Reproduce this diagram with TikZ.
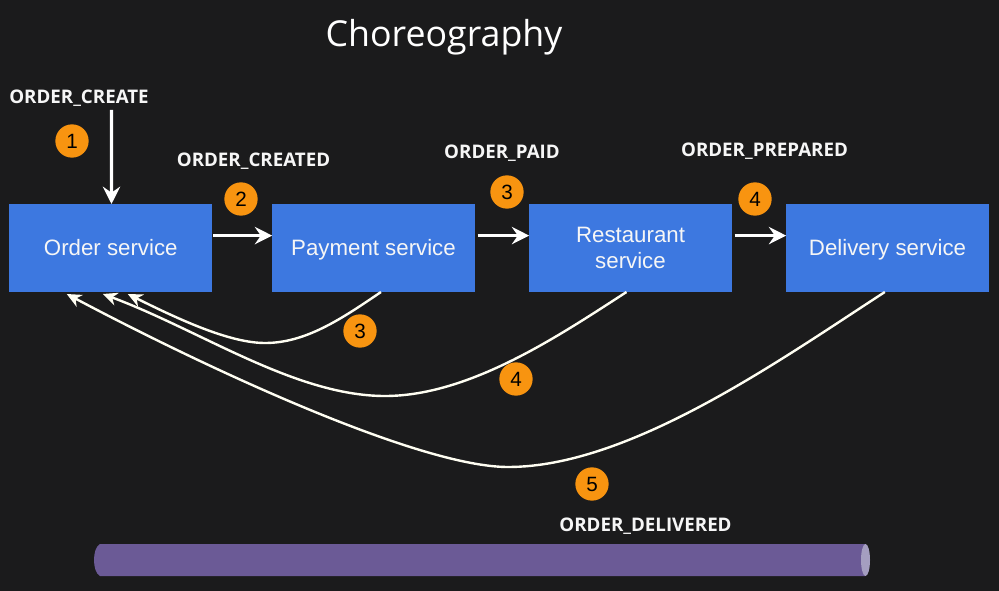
\documentclass[tikz,border=0pt]{standalone}
\usepackage{fontspec}
\setmainfont{Liberation Sans}
\newfontfamily\labelfont{Open Sans}
\usetikzlibrary{arrows.meta}
\definecolor{bgc}{RGB}{27,27,28}
\definecolor{boxc}{RGB}{61,120,224}
\definecolor{orangec}{RGB}{248,148,16}
\definecolor{pipec}{RGB}{107,90,150}
\definecolor{pipeend}{RGB}{165,158,192}
\definecolor{textc}{RGB}{246,246,246}
\tikzset{
  svcbox/.style={fill=boxc,draw=none,minimum width=152pt,minimum height=66pt,inner sep=0pt,outer sep=0pt,text=textc,align=center,font=\fontsize{16.7pt}{19.6pt}\selectfont},
  oneline/.style={text height=12pt,text depth=0pt},
  badge/.style={circle,fill=orangec,minimum size=25pt,inner sep=0pt,text=black,font=\fontsize{15.5pt}{15.5pt}\selectfont},
  evt/.style={text=textc,inner sep=0pt,font=\labelfont\bfseries\fontsize{14.05pt}{16pt}\selectfont},
  bigarrow/.style={draw=white,line width=2.4pt,-{Stealth[length=13pt,width=13pt,inset=4.5pt]}},
  backarrow/.style={draw=white!95!yellow,line width=1.8pt,-{Stealth[length=11pt,width=10pt,inset=3.5pt]}},
}
\begin{document}
\begin{tikzpicture}[x=0.75pt,y=-0.75pt]
\useasboundingbox (0,0) rectangle (999,591);
\fill[bgc] (0,0) rectangle (999,591);
\node[text=white,inner sep=0pt,font=\labelfont\fontsize{26.8pt}{30pt}\selectfont] (title) at (444,37) {Choreography};

\node[svcbox,oneline] (order) at (110.75,248) {Order service};
\node[svcbox,oneline] (pay) at (373.5,248) {Payment service};
\node[svcbox] (rest) at (630.5,248) {Restaurant\\service};
\node[svcbox,oneline] (deliv) at (887.5,248) {Delivery service};

\node[evt] (lcreate) at (79,98) {ORDER\_CREATE};
\node[evt] (lcreated) at (253.5,161) {ORDER\_CREATED};
\node[evt] (lpaid) at (502,153) {ORDER\_PAID};
\node[evt] (lprep) at (764.5,151) {ORDER\_PREPARED};
\node[evt] (ldeliv) at (645.5,526) {ORDER\_DELIVERED};

\node[badge] (b1) at (72,141) {1};
\node[badge] (b2) at (241,199) {2};
\node[badge] (b3a) at (507,192) {3};
\node[badge] (b4a) at (755,199) {4};
\node[badge] (b3b) at (360,331) {3};
\node[badge] (b4b) at (516,379) {4};
\node[badge] (b5) at (592,484) {5};

\coordinate (cin) at (111.5,110);
\draw[bigarrow] (cin) -- ([xshift=0.56pt]order.north);
\draw[bigarrow] ([xshift=0.75pt,yshift=9.3pt]order.east) -- ([yshift=9.3pt]pay.west);
\draw[bigarrow] ([xshift=2pt,yshift=9.3pt]pay.east) -- ([yshift=9.3pt]rest.west);
\draw[bigarrow] ([xshift=2pt,yshift=9.3pt]rest.east) -- ([yshift=9.3pt]deliv.west);

\coordinate (low3) at (265,343);
\coordinate (low4) at (385,396);
\coordinate (low5) at (508,467);
\draw[backarrow] ([xshift=5.6pt]pay.south) .. controls (340,320) and (305,343) .. (low3)
  .. controls (230,343) and (180,320) .. ([xshift=12.75pt,yshift=-1.5pt]order.south);
\draw[backarrow] ([xshift=-3pt]rest.south) .. controls (560,335) and (470,396) .. (low4)
  .. controls (295,396) and (200,330) .. ([xshift=-6pt,yshift=-1.5pt]order.south);
\draw[backarrow] ([xshift=-2pt]deliv.south) .. controls (780,360) and (630,467) .. (low5)
  .. controls (420,467) and (210,370) .. ([xshift=-33pt,yshift=-1.5pt]order.south);

\fill[pipec] (100,544) -- (865,544) -- (865,576) -- (100,576) .. controls (92,572) and (92,548) .. (100,544) -- cycle;
\fill[pipeend] (865.5,560) ellipse [x radius=4.5,y radius=16];
\end{tikzpicture}
\end{document}
